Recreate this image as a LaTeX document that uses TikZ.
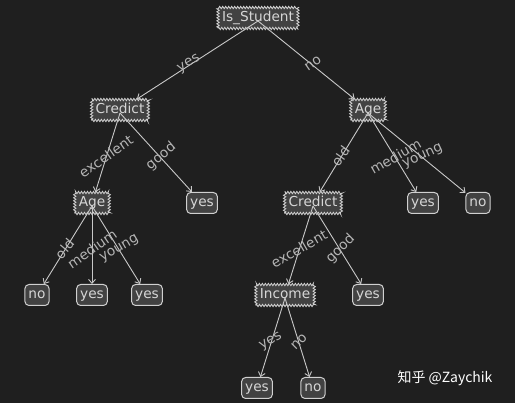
\documentclass[tikz,border=0pt]{standalone}
\usepackage{fontspec}
\setmainfont{DejaVu Sans}
\newfontfamily\cjk{Noto Sans CJK SC}
\usetikzlibrary{arrows.meta,decorations.pathmorphing,calc}
\definecolor{bg}{HTML}{1F1F1F}
\definecolor{boxfill}{HTML}{424242}
\definecolor{edgec}{HTML}{D0D0D0}
\definecolor{txt}{HTML}{D6D6D6}
\definecolor{linec}{HTML}{C8C8C8}
\definecolor{labc}{HTML}{B4B4B4}
\tikzset{
  dec/.style={draw=edgec, fill=boxfill, text=txt, inner xsep=4pt, inner ysep=4pt,
    text height=10pt, text depth=3pt, line width=0.8pt, decorate,
    decoration={zigzag, segment length=3pt, amplitude=1.2pt}},
  leaf/.style={draw=edgec, fill=boxfill, text=txt, rounded corners=4pt, inner xsep=3.5pt,
    inner ysep=4pt, text height=10pt, text depth=3pt, line width=1pt},
  arr/.style={draw=linec, line width=0.9pt, -{Straight Barb[length=4pt,width=7pt]}},
  lab/.style={text=labc, inner sep=0pt}
}
\begin{document}
\begin{tikzpicture}[x=1pt,y=-1pt,font=\fontsize{13.7}{16}\selectfont]
\fill[bg] (0,0) rectangle (515,403);
\useasboundingbox (0,0) rectangle (515,403);
% nodes
\node[dec] (root) at (258,18) {Is\_Student};
\node[dec] (credL) at (120,110) {Credict};
\node[dec] (ageR) at (368,110) {Age};
\node[dec] (ageL) at (92,203) {Age};
\node[leaf] (yesA) at (202,203) {yes};
\node[dec] (credR) at (313,203) {Credict};
\node[leaf] (yesB) at (423,203) {yes};
\node[leaf] (noB) at (478,203) {no};
\node[leaf] (no1) at (37,295) {no};
\node[leaf] (yes1) at (92,295) {yes};
\node[leaf] (yes2) at (147,295) {yes};
\node[dec] (inc) at (285,295) {Income};
\node[leaf] (yesC) at (368,295) {yes};
\node[leaf] (yesD) at (257,388) {yes};
\node[leaf] (noD) at (313,388) {no};
% edges
\draw[arr] ([yshift=-3pt]root.center) -- (credL);
\draw[arr] ([yshift=-3pt]root.center) -- (ageR);
\draw[arr] ([yshift=-3pt]credL.center) -- (ageL);
\draw[arr] ([yshift=-3pt]credL.center) -- (yesA);
\draw[arr] ([yshift=-3pt]ageR.center) -- (credR);
\draw[arr] ([yshift=-3pt]ageR.center) -- (yesB);
\draw[arr] ([yshift=-3pt]ageR.center) -- (noB);
\draw[arr] ([yshift=-3pt]ageL.center) -- (no1);
\draw[arr] ([yshift=-3pt]ageL.center) -- (yes1);
\draw[arr] ([yshift=-3pt]ageL.center) -- (yes2);
\draw[arr] ([yshift=-3pt]credR.center) -- (inc);
\draw[arr] ([yshift=-3pt]credR.center) -- (yesC);
\draw[arr] ([yshift=-3pt]inc.center) -- (yesD);
\draw[arr] ([yshift=-3pt]inc.center) -- (noD);
% labels
\node[lab,rotate=30] (l1) at ($(root)!0.5!(credL)$) {yes};
\node[lab,rotate=35] (l2) at ($(root)!0.5!(ageR)$) {no};
\node[lab,rotate=35] (l3) at ($(credL)!0.5!(ageL)$) {excellent};
\node[lab,rotate=40] (l4) at ($(credL)!0.5!(yesA)$) {good};
\node[lab,rotate=55] (l5) at ($(ageR)!0.5!(credR)$) {old};
\node[lab,rotate=30] (l6) at ($(ageR)!0.5!(yesB)$) {medium};
\node[lab,rotate=25] (l7) at ($(ageR)!0.5!(noB)$) {young};
\node[lab,rotate=50] (l8) at ($(ageL)!0.5!(no1)$) {old};
\node[lab,rotate=35] (l9) at ($(ageL)!0.5!(yes1)$) {medium};
\node[lab,rotate=30] (l10) at ($(ageL)!0.5!(yes2)$) {young};
\node[lab,rotate=30] (l11) at ($(credR)!0.5!(inc)$) {excellent};
\node[lab,rotate=45] (l12) at ($(credR)!0.5!(yesC)$) {good};
\node[lab,rotate=30] (l13) at ($(inc)!0.5!(yesD)$) {yes};
\node[lab,rotate=45] (l14) at ($(inc)!0.5!(noD)$) {no};
% watermark
\node[text=white,inner sep=0pt,font=\cjk\fontsize{14}{16}\selectfont] (wm) at (445,378) {知乎 @Zaychik};
\end{tikzpicture}
\end{document}
